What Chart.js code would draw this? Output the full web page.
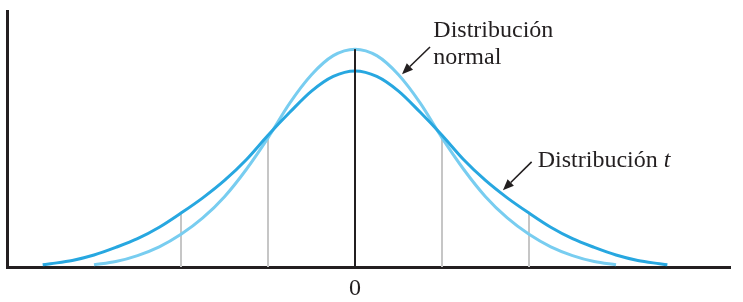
<!DOCTYPE html>
<html>
<head>
<meta charset="utf-8">
<script src="https://cdn.jsdelivr.net/npm/chart.js@4.4.1/dist/chart.umd.min.js"></script>
<style>
  html, body { margin: 0; padding: 0; background: #fff; }
  canvas { display: block; }
</style>
</head>
<body>
<canvas id="chart" width="743" height="302"></canvas>
<script>
// ─── Data (x in standard units, y as density) ───
const normX = [-3, -2.75, -2.5, -2.25, -2, -1.75, -1.5, -1.25, -1, -0.75, -0.5, -0.25, 0,
               0.25, 0.5, 0.75, 1, 1.25, 1.5, 1.75, 2, 2.25, 2.5, 2.75, 3];
const normY = [0.004, 0.010, 0.021, 0.037, 0.060, 0.090, 0.129, 0.179, 0.237, 0.301, 0.353, 0.388, 0.400,
               0.388, 0.353, 0.301, 0.237, 0.179, 0.129, 0.090, 0.060, 0.037, 0.021, 0.010, 0.004];

const tX = [-3.59, -3.5, -3.25, -3, -2.75, -2.5, -2.25, -2, -1.75, -1.5, -1.25, -1, -0.75, -0.5, -0.25, 0,
            0.25, 0.5, 0.75, 1, 1.25, 1.5, 1.75, 2, 2.25, 2.5, 2.75, 3, 3.25, 3.5, 3.59];
const tY = [0.004, 0.006, 0.012, 0.022, 0.036, 0.052, 0.073, 0.099, 0.127, 0.159, 0.197, 0.242, 0.284, 0.323, 0.350, 0.360,
            0.350, 0.323, 0.284, 0.242, 0.197, 0.159, 0.127, 0.099, 0.073, 0.052, 0.036, 0.022, 0.012, 0.006, 0.004];

// grey guide lines at ±1, ±2 (up to the upper curve) and the centre line
const guideX = [-2, -1, 1, 2];
const guideTop = [0.099, 0.242, 0.242, 0.099];
const centerX = 0;
const centerTop = 0.400;

const tickLabels = ['0'];
const tickValues = [0];

// ─── Styles ───
const INK = '#231f20';
const LIGHT = '#78cdf0';
const DARK = '#27a7e0';
const GREY = '#c6c6c6';
const SERIF = '"Liberation Serif", "DejaVu Serif", serif';

const pts = (xs, ys) => xs.map((x, i) => ({ x: x, y: ys[i] }));

const guideSets = guideX.map((x, i) => ({
    data: [{ x: x, y: 0 }, { x: x, y: guideTop[i] }],
    borderColor: GREY,
    borderWidth: 2,
    pointRadius: 0,
    order: 5
}));

// ─── Annotations (positions in data units) ───
const notes = [
    { lines: ['Distribución', 'normal'], x: 0.9, y: [0.422, 0.373], arrow: { from: [0.862, 0.404], to: [0.54, 0.354] } },
    { lines: ['Distribución '], italic: 't', x: 2.1, y: [0.184], arrow: { from: [2.03, 0.193], to: [1.70, 0.141] } }
];

const annotate = {
    id: 'annotate',
    afterDraw(chart) {
        const { ctx, scales: { x, y } } = chart;
        ctx.save();
        ctx.fillStyle = INK;
        ctx.strokeStyle = INK;
        ctx.textBaseline = 'alphabetic';
        notes.forEach(n => {
            ctx.font = '24px ' + SERIF;
            const px = x.getPixelForValue(n.x);
            n.lines.forEach((line, i) => {
                ctx.fillText(line, px, y.getPixelForValue(n.y[i]));
            });
            if (n.italic) {
                const w = ctx.measureText(n.lines[0]).width;
                ctx.font = 'italic 24px ' + SERIF;
                ctx.fillText(n.italic, px + w, y.getPixelForValue(n.y[0]));
            }
            // arrow
            const x1 = x.getPixelForValue(n.arrow.from[0]), y1 = y.getPixelForValue(n.arrow.from[1]);
            const x2 = x.getPixelForValue(n.arrow.to[0]), y2 = y.getPixelForValue(n.arrow.to[1]);
            const ang = Math.atan2(y2 - y1, x2 - x1);
            const head = 11, half = 4.5;
            const bx = x2 - head * Math.cos(ang), by = y2 - head * Math.sin(ang);
            ctx.lineWidth = 1.6;
            ctx.beginPath();
            ctx.moveTo(x1, y1);
            ctx.lineTo(bx, by);
            ctx.stroke();
            ctx.beginPath();
            ctx.moveTo(x2, y2);
            ctx.lineTo(bx + half * Math.sin(ang), by - half * Math.cos(ang));
            ctx.lineTo(bx - half * Math.sin(ang), by + half * Math.cos(ang));
            ctx.closePath();
            ctx.fill();
        });
        ctx.restore();
    }
};

new Chart(document.getElementById('chart'), {
    type: 'line',
    data: {
        datasets: [
            ...guideSets,
            {
                data: pts(normX, normY),
                borderColor: LIGHT,
                borderWidth: 3,
                pointRadius: 0,
                cubicInterpolationMode: 'monotone',
                order: 3
            },
            {
                data: pts(tX, tY),
                borderColor: DARK,
                borderWidth: 3,
                pointRadius: 0,
                cubicInterpolationMode: 'monotone',
                order: 2
            },
            {
                data: [{ x: centerX, y: 0 }, { x: centerX, y: centerTop }],
                borderColor: INK,
                borderWidth: 2,
                pointRadius: 0,
                order: 1
            }
        ]
    },
    options: {
        responsive: false,
        animation: false,
        devicePixelRatio: 1,
        layout: { padding: { left: 7, right: 13, top: 11, bottom: -9 } },
        plugins: { legend: { display: false }, tooltip: { enabled: false } },
        scales: {
            x: {
                type: 'linear',
                min: -4,
                max: 4.31,
                grid: { display: false, drawTicks: false },
                border: { display: true, color: INK, width: 3 },
                afterBuildTicks: scale => { scale.ticks = tickValues.map(v => ({ value: v })); },
                ticks: {
                    padding: 10,
                    maxRotation: 0,
                    color: INK,
                    font: { family: SERIF, size: 24, lineHeight: 1 },
                    callback: (v) => tickLabels[tickValues.indexOf(v)]
                }
            },
            y: {
                min: 0,
                max: 0.47,
                grid: { display: false, drawTicks: false },
                border: { display: true, color: INK, width: 3 },
                ticks: { display: false }
            }
        }
    },
    plugins: [annotate]
});
</script>
</body>
</html>
